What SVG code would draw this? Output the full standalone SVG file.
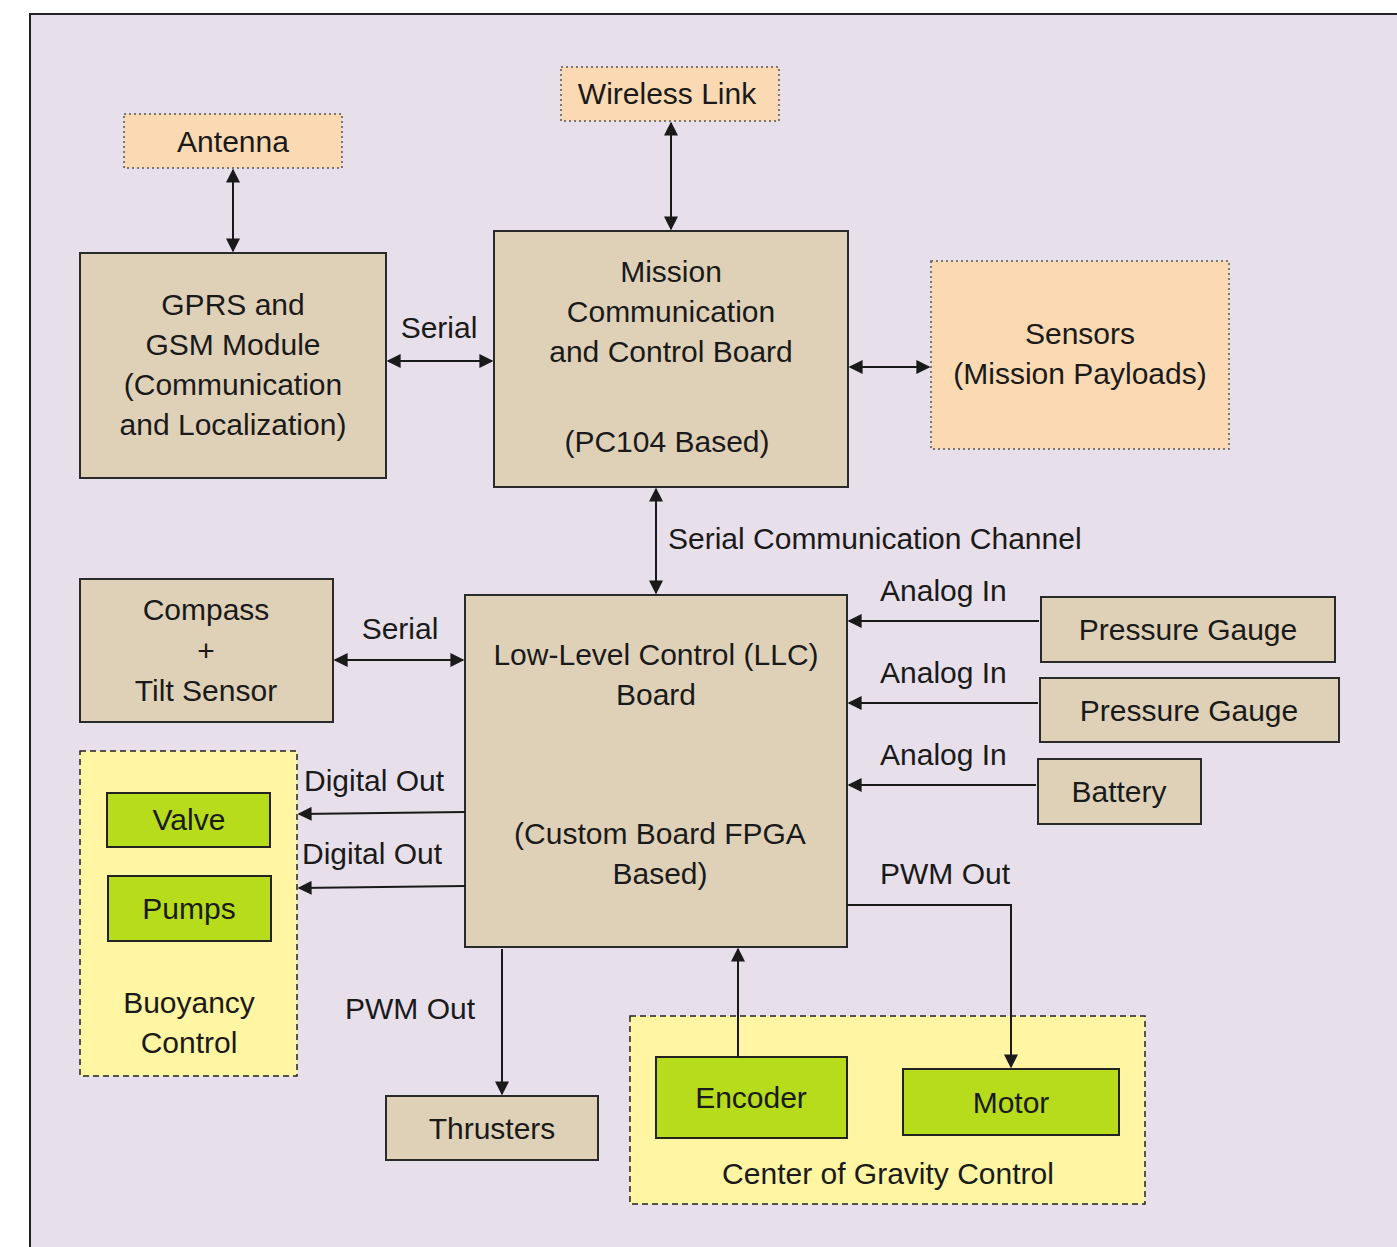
<svg xmlns="http://www.w3.org/2000/svg" width="1397" height="1247" viewBox="0 0 1397 1247">
<defs>
<marker id="a" viewBox="0 0 10 10" refX="9" refY="5" markerWidth="14" markerHeight="14" markerUnits="userSpaceOnUse" orient="auto-start-reverse"><path d="M0,0L10,5L0,10z" fill="#1a1a1a"/></marker>
<style>
text{font-family:"Liberation Sans",Arial,sans-serif;font-size:30px;fill:#1a1a1a;text-anchor:middle}
.l{text-anchor:start}
.b{fill:#dfd1b8;stroke:#2a2a2a;stroke-width:2}
.o{fill:#fbd9b2;stroke:#555;stroke-width:1.5;stroke-dasharray:2 3}
.y{fill:#fff5a2;stroke:#222;stroke-width:1.5;stroke-dasharray:6 4}
.g{fill:#b7dc1b;stroke:#222;stroke-width:2}
.c{fill:none;stroke:#1a1a1a;stroke-width:2}
</style>
</defs>
<rect x="0" y="0" width="1397" height="1247" fill="#fff"/>
<rect x="30" y="14" width="1380" height="1250" fill="#e7dfea" stroke="#222" stroke-width="2"/>
<g id="antenna"><rect class="o" x="124" y="114" width="218" height="54"/><text x="233" y="152">Antenna</text></g>
<g id="wireless"><rect class="o" x="561" y="67" width="218" height="54"/><text x="667" y="104">Wireless Link</text></g>
<g id="gprs"><rect class="b" x="80" y="253" width="306" height="225"/><text x="233" y="315">GPRS and</text><text x="233" y="355">GSM Module</text><text x="233" y="395">(Communication</text><text x="233" y="435">and Localization)</text></g>
<g id="mission"><rect class="b" x="494" y="231" width="354" height="256" stroke-width="3"/><text x="671" y="282">Mission</text><text x="671" y="322">Communication</text><text x="671" y="362">and Control Board</text><text x="667" y="452">(PC104 Based)</text></g>
<g id="sensors"><rect class="o" x="931" y="261" width="298" height="188"/><text x="1080" y="344">Sensors</text><text x="1080" y="384">(Mission Payloads)</text></g>
<g id="compass"><rect class="b" x="80" y="579" width="253" height="143"/><text x="206" y="620">Compass</text><text x="206" y="661">+</text><text x="206" y="701">Tilt Sensor</text></g>
<g id="llc"><rect class="b" x="465" y="595" width="382" height="352"/><text x="656" y="665">Low-Level Control (LLC)</text><text x="656" y="705">Board</text><text x="660" y="844">(Custom Board FPGA</text><text x="660" y="884">Based)</text></g>
<g id="pg1"><rect class="b" x="1041" y="597" width="294" height="65"/><text x="1188" y="640">Pressure Gauge</text></g>
<g id="pg2"><rect class="b" x="1040" y="678" width="299" height="64"/><text x="1189" y="721">Pressure Gauge</text></g>
<g id="battery"><rect class="b" x="1038" y="759" width="163" height="65"/><text x="1119" y="802">Battery</text></g>
<g id="buoyancy"><rect class="y" x="80" y="751" width="217" height="325"/><text x="189" y="1013">Buoyancy</text><text x="189" y="1053">Control</text></g>
<g id="valve"><rect class="g" x="107" y="793" width="163" height="54"/><text x="189" y="830">Valve</text></g>
<g id="pumps"><rect class="g" x="108" y="876" width="163" height="65"/><text x="189" y="919">Pumps</text></g>
<g id="thrusters"><rect class="b" x="386" y="1096" width="212" height="64"/><text x="492" y="1139">Thrusters</text></g>
<g id="cog"><rect class="y" x="630" y="1016" width="515" height="188"/><text x="888" y="1184">Center of Gravity Control</text></g>
<g id="encoder"><rect class="g" x="656" y="1057" width="191" height="81"/><text x="751" y="1108">Encoder</text></g>
<g id="motor"><rect class="g" x="903" y="1069" width="216" height="66"/><text x="1011" y="1113">Motor</text></g>
<g id="connectors">
<line class="c" x1="233" y1="170" x2="233" y2="251" marker-start="url(#a)" marker-end="url(#a)"/>
<line class="c" x1="671" y1="123" x2="671" y2="229" marker-start="url(#a)" marker-end="url(#a)"/>
<line class="c" x1="388" y1="361" x2="492" y2="361" marker-start="url(#a)" marker-end="url(#a)"/>
<line class="c" x1="850" y1="367" x2="929" y2="367" marker-start="url(#a)" marker-end="url(#a)"/>
<line class="c" x1="656" y1="489" x2="656" y2="593" marker-start="url(#a)" marker-end="url(#a)"/>
<line class="c" x1="335" y1="660" x2="463" y2="660" marker-start="url(#a)" marker-end="url(#a)"/>
<line class="c" x1="1039" y1="621" x2="849" y2="621" marker-end="url(#a)"/>
<line class="c" x1="1038" y1="703" x2="849" y2="703" marker-end="url(#a)"/>
<line class="c" x1="1036" y1="785" x2="849" y2="785" marker-end="url(#a)"/>
<line class="c" x1="465" y1="812" x2="299" y2="814" marker-end="url(#a)"/>
<line class="c" x1="465" y1="886" x2="299" y2="888" marker-end="url(#a)"/>
<line class="c" x1="502" y1="949" x2="502" y2="1094" marker-end="url(#a)"/>
<line class="c" x1="738" y1="1057" x2="738" y2="949" marker-end="url(#a)"/>
<polyline class="c" points="847,905 1011,905 1011,1067" marker-end="url(#a)"/>
</g>
<g id="labels">
<text x="439" y="338">Serial</text>
<text class="l" x="668" y="549">Serial Communication Channel</text>
<text x="400" y="639">Serial</text>
<text class="l" x="880" y="601">Analog In</text>
<text class="l" x="880" y="683">Analog In</text>
<text class="l" x="880" y="765">Analog In</text>
<text class="l" x="304" y="791">Digital Out</text>
<text class="l" x="302" y="864">Digital Out</text>
<text class="l" x="880" y="884">PWM Out</text>
<text class="l" x="345" y="1019">PWM Out</text>
</g>
</svg>
